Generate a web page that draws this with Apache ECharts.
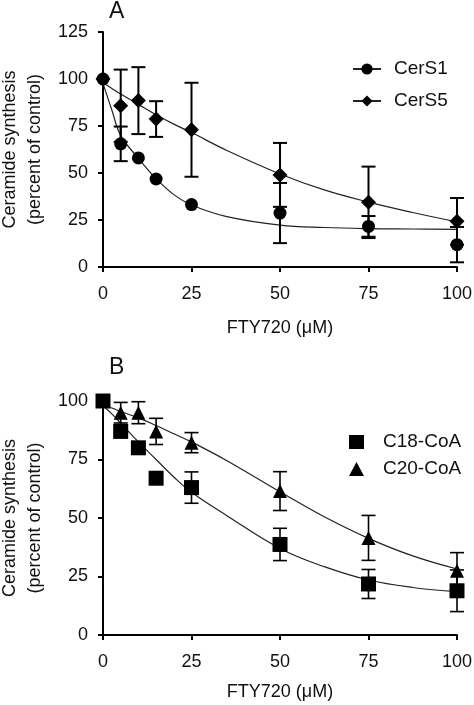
<!DOCTYPE html>
<html>
<head>
<meta charset="utf-8">
<script src="https://cdn.jsdelivr.net/npm/echarts@6/dist/echarts.min.js"></script>
<style>
  html, body { margin: 0; padding: 0; background: #fff; }
  #main { width: 474px; height: 705px; }
</style>
</head>
<body>
<div id="main"></div>
<script>
// doses (uM)
var doses = [0, 5, 10, 15, 25, 50, 75, 100];

// panel A
var cers1Mean = [100, 65.5, 58, 46.8, 33.2, 28.7, 21.6, 11.9];
var cers1Err = [0, 9.2, 0, 0, 0, 16, 5.5, 9.4];
var cers5Mean = [100, 85.8, 88.5, 78.7, 73, 49, 34.4, 24.3];
var cers5Err = [0, 19.2, 17.8, 9.5, 25, 17, 19, 12.4];

// panel B
var c18Mean = [100, 87, 80, 67, 63, 38.7, 21.8, 18.9];
var c18Err = [0, 0, 0, 0, 6.7, 6.9, 6.2, 8.9];
var c20Mean = [100, 95, 95, 87, 82.2, 61.5, 41.5, 27.5];
var c20Err = [0, 4.4, 4.7, 5.6, 4.3, 8.3, 9.6, 7.7];

// fitted curves
var fitX = [0, 2.5, 5, 10, 15, 20, 25, 35, 50, 62.5, 75, 87.5, 100];
var cers1Fit = [97.7, 83.5, 70, 57.8, 47, 38.5, 33, 26.8, 22.3, 21, 20.4, 20.2, 20];
var cers5Fit = [98, 95, 92, 86.5, 81, 76, 71.5, 62, 49.5, 41, 34.5, 29, 24];
var c18Fit = [98, 94.5, 90.5, 82.5, 75, 67.5, 61, 51, 37, 29.2, 23.5, 20.3, 18.5];
var c20Fit = [98, 97, 95.5, 92.8, 89.5, 86, 82.5, 74.5, 61.2, 50.5, 41.3, 33.8, 28.2];

var FONT = '"Liberation Sans", Arial, sans-serif';

function pairs(xs, ys) {
  return xs.map(function (x, i) { return [x, ys[i]]; });
}
function triples(xs, ys, es) {
  return xs.map(function (x, i) { return [x, ys[i], es[i]]; });
}

function errorBars(idx, data, lw) {
  return {
    type: 'custom',
    xAxisIndex: idx,
    yAxisIndex: idx,
    data: data,
    z: 3,
    silent: true,
    renderItem: function (params, api) {
      var x = api.value(0), y = api.value(1), e = api.value(2);
      if (!e) return null;
      var top = api.coord([x, y + e]);
      var bot = api.coord([x, y - e]);
      var w = 7;
      var style = { stroke: '#000', lineWidth: lw };
      return {
        type: 'group',
        children: [
          { type: 'line', shape: { x1: top[0], y1: top[1], x2: bot[0], y2: bot[1] }, style: style },
          { type: 'line', shape: { x1: top[0] - w, y1: top[1], x2: top[0] + w, y2: top[1] }, style: style },
          { type: 'line', shape: { x1: bot[0] - w, y1: bot[1], x2: bot[0] + w, y2: bot[1] }, style: style }
        ]
      };
    }
  };
}

function fitLine(idx, name, symbol, data) {
  return {
    type: 'line',
    name: name,
    xAxisIndex: idx,
    yAxisIndex: idx,
    data: data,
    smooth: 0.4,
    symbol: symbol,
    symbolSize: 13,
    showSymbol: false,
    itemStyle: { color: '#000', opacity: 1 },
    lineStyle: { color: '#222', width: 1.2 },
    silent: true,
    z: 2
  };
}

function points(idx, symbol, size, data) {
  return {
    type: 'scatter',
    xAxisIndex: idx,
    yAxisIndex: idx,
    data: data,
    symbol: symbol,
    symbolSize: size,
    itemStyle: { color: '#000', opacity: 1 },
    silent: true,
    z: 4
  };
}

function xAxis(idx, nameGap) {
  return {
    type: 'value',
    gridIndex: idx,
    min: 0,
    max: 100,
    interval: 25,
    name: 'FTY720 (μM)',
    nameLocation: 'middle',
    nameGap: nameGap,
    nameTextStyle: { fontFamily: FONT, fontSize: 18, color: '#111' },
    axisLine: { lineStyle: { color: '#000', width: 2 } },
    axisTick: { show: true, length: 5, lineStyle: { color: '#000', width: 2 } },
    axisLabel: { fontFamily: FONT, fontSize: 18, color: '#111', margin: 18 },
    splitLine: { show: false }
  };
}

function yAxis(idx, max) {
  return {
    type: 'value',
    gridIndex: idx,
    min: 0,
    max: max,
    interval: 25,
    name: 'Ceramide synthesis\n(percent of control)',
    nameLocation: 'middle',
    nameRotate: 90,
    nameGap: 52,
    nameTextStyle: { fontFamily: FONT, fontSize: 18, color: '#111', lineHeight: 25 },
    axisLine: { show: true, lineStyle: { color: '#000', width: 2 } },
    axisTick: { show: true, length: 5, lineStyle: { color: '#000', width: 2 } },
    axisLabel: { fontFamily: FONT, fontSize: 18, color: '#111', margin: 15 },
    splitLine: { show: false }
  };
}

var chart = echarts.init(document.getElementById('main'), null, { renderer: 'canvas' });

var option = {
  backgroundColor: '#fff',
  animation: false,
  title: [
    { text: 'A', left: 109, top: 0, padding: 0, textStyle: { fontFamily: FONT, fontSize: 23, fontWeight: 'normal', color: '#111' } },
    { text: 'B', left: 109, top: 356, padding: 0, textStyle: { fontFamily: FONT, fontSize: 23, fontWeight: 'normal', color: '#111' } }
  ],
  legend: [
    {
      left: 352,
      top: 59,
      padding: 0,
      orient: 'vertical',
      itemWidth: 28,
      itemHeight: 14,
      itemGap: 12,
      data: ['CerS1', 'CerS5'],
      textStyle: { fontFamily: FONT, fontSize: 19, lineHeight: 20, color: '#111', padding: [0, 0, 0, 8] }
    },
    {
      left: 349,
      top: 432,
      padding: 0,
      orient: 'vertical',
      itemWidth: 15,
      itemHeight: 14,
      itemGap: 7,
      data: [{ name: 'C18-CoA', icon: 'rect' }, { name: 'C20-CoA', icon: 'triangle' }],
      textStyle: { fontFamily: FONT, fontSize: 19, lineHeight: 20, color: '#111', padding: [0, 0, 0, 14] }
    }
  ],
  grid: [
    { left: 103, right: 17, top: 32, height: 235, outerBoundsMode: 'none' },
    { left: 103, right: 17, top: 401, height: 234, outerBoundsMode: 'none' }
  ],
  xAxis: [xAxis(0, 52), xAxis(1, 48)],
  yAxis: [yAxis(0, 125), yAxis(1, 100)],
  series: [
    fitLine(0, 'CerS1', 'circle', pairs(fitX, cers1Fit)),
    fitLine(0, 'CerS5', 'diamond', pairs(fitX, cers5Fit)),
    errorBars(0, triples(doses, cers1Mean, cers1Err), 2),
    errorBars(0, triples(doses, cers5Mean, cers5Err), 2),
    points(0, 'circle', 13, pairs(doses, cers1Mean)),
    points(0, 'diamond', 15, pairs(doses, cers5Mean)),

    fitLine(1, 'C18-CoA', 'rect', pairs(fitX, c18Fit)),
    fitLine(1, 'C20-CoA', 'triangle', pairs(fitX, c20Fit)),
    errorBars(1, triples(doses, c18Mean, c18Err), 1.6),
    errorBars(1, triples(doses, c20Mean, c20Err), 1.6),
    points(1, 'rect', 15, pairs(doses, c18Mean)),
    points(1, 'triangle', 14, pairs(doses, c20Mean))
  ]
};

chart.setOption(option);
</script>
</body>
</html>
